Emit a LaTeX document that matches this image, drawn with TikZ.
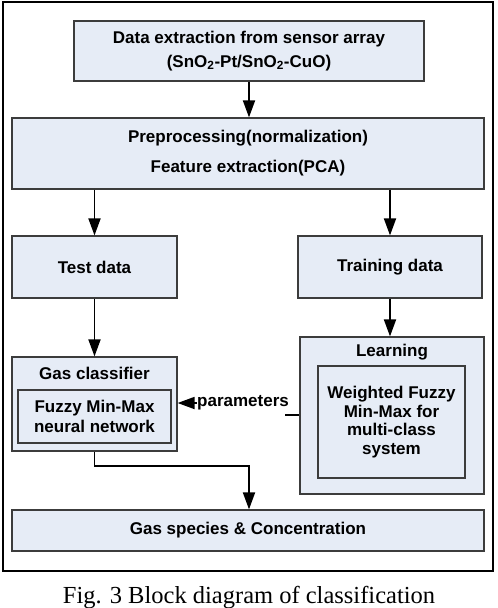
\documentclass[tikz,border=0pt]{standalone}
\usepackage{fontspec}
\setmainfont{Liberation Sans}
\newfontfamily\capfont{Liberation Serif}
\usetikzlibrary{arrows.meta}
\definecolor{boxfill}{RGB}{230,236,246}
\definecolor{boxline}{RGB}{60,60,60}
\tikzset{
  blk/.style={draw=boxline, line width=1.2pt, fill=boxfill, inner sep=0pt, align=center,
    font=\fontsize{17}{18.5}\selectfont\bfseries},
  conn/.style={line width=1.8pt, -{Triangle[length=17pt,width=12pt]}},
  plain/.style={line width=1.8pt},
  lbl/.style={inner sep=0pt, font=\fontsize{17}{18.5}\selectfont\bfseries}
}
\begin{document}
\begin{tikzpicture}[x=1pt,y=1pt]
\useasboundingbox (0,0) rectangle (498,-608);
\node[draw=black, line width=1.6pt, minimum width=490pt, minimum height=569pt, inner sep=0pt] (frame) at (248,-286.5) {};
% boxes
\node[blk, minimum width=350pt, minimum height=60pt, font=\fontsize{17}{24}\selectfont\bfseries] (data) at (249,-51)
  {Data extraction from sensor array\\ (SnO\textsubscript{2}-Pt/SnO\textsubscript{2}-CuO)};
\node[blk, minimum width=472pt, minimum height=71pt, font=\fontsize{17}{30}\selectfont\bfseries] (pre) at (248,-153.5)
  {Preprocessing(normalization)\\ Feature extraction(PCA)};
\node[blk, minimum width=165pt, minimum height=62pt] (test) at (94.5,-267) {Test data};
\node[blk, minimum width=184pt, minimum height=62pt] (train) at (390,-267) {Training data};
\node[blk, minimum width=165pt, minimum height=94pt] (gas) at (94.5,-404) {};
\node[lbl] (gastitle) at (94.5,-373) {Gas classifier};
\node[blk, minimum width=153pt, minimum height=53pt, font=\fontsize{17}{20}\selectfont\bfseries] (fmm) at (94.5,-416.5)
  {Fuzzy Min-Max\\ neural network};
\node[blk, minimum width=184pt, minimum height=157pt] (learn) at (392,-415.5) {};
\node[lbl] (learntitle) at (392,-352) {Learning};
\node[blk, minimum width=147pt, minimum height=112pt] (wfmm) at (391.5,-422)
  {Weighted Fuzzy\\ Min-Max for\\ multi-class\\ system};
\node[blk, minimum width=472pt, minimum height=41pt] (out) at (248,-530.5) {Gas species \& Concentration};
% connectors
\draw[conn] (data.south) -- (data.south |- pre.north);
\draw[conn] (test.north |- pre.south) -- (test.north);
\draw[conn] (train.north |- pre.south) -- (train.north);
\draw[conn] (test.south) -- (gas.north);
\draw[conn] (train.south) -- (train.south |- learn.north);
\coordinate (bend1) at (94.5,-466);
\coordinate (bend2) at (249,-466);
\draw[conn] (gas.south) -- (bend1) -- (bend2) -- (bend2 |- out.north);
% parameters
\node[lbl] (par) at (243,-403) {parameters};
\coordinate (parend) at (285,-415);
\draw[plain] (learn.west |- parend) -- (parend);
\draw[conn] (par.west) -- (gas.east |- par.west);
% caption
\node[inner sep=0pt, anchor=base, font=\capfont\fontsize{24.5}{24.5}\selectfont] (cap) at (249,-603) {Fig. 3 Block diagram of classification};
\end{tikzpicture}
\end{document}
